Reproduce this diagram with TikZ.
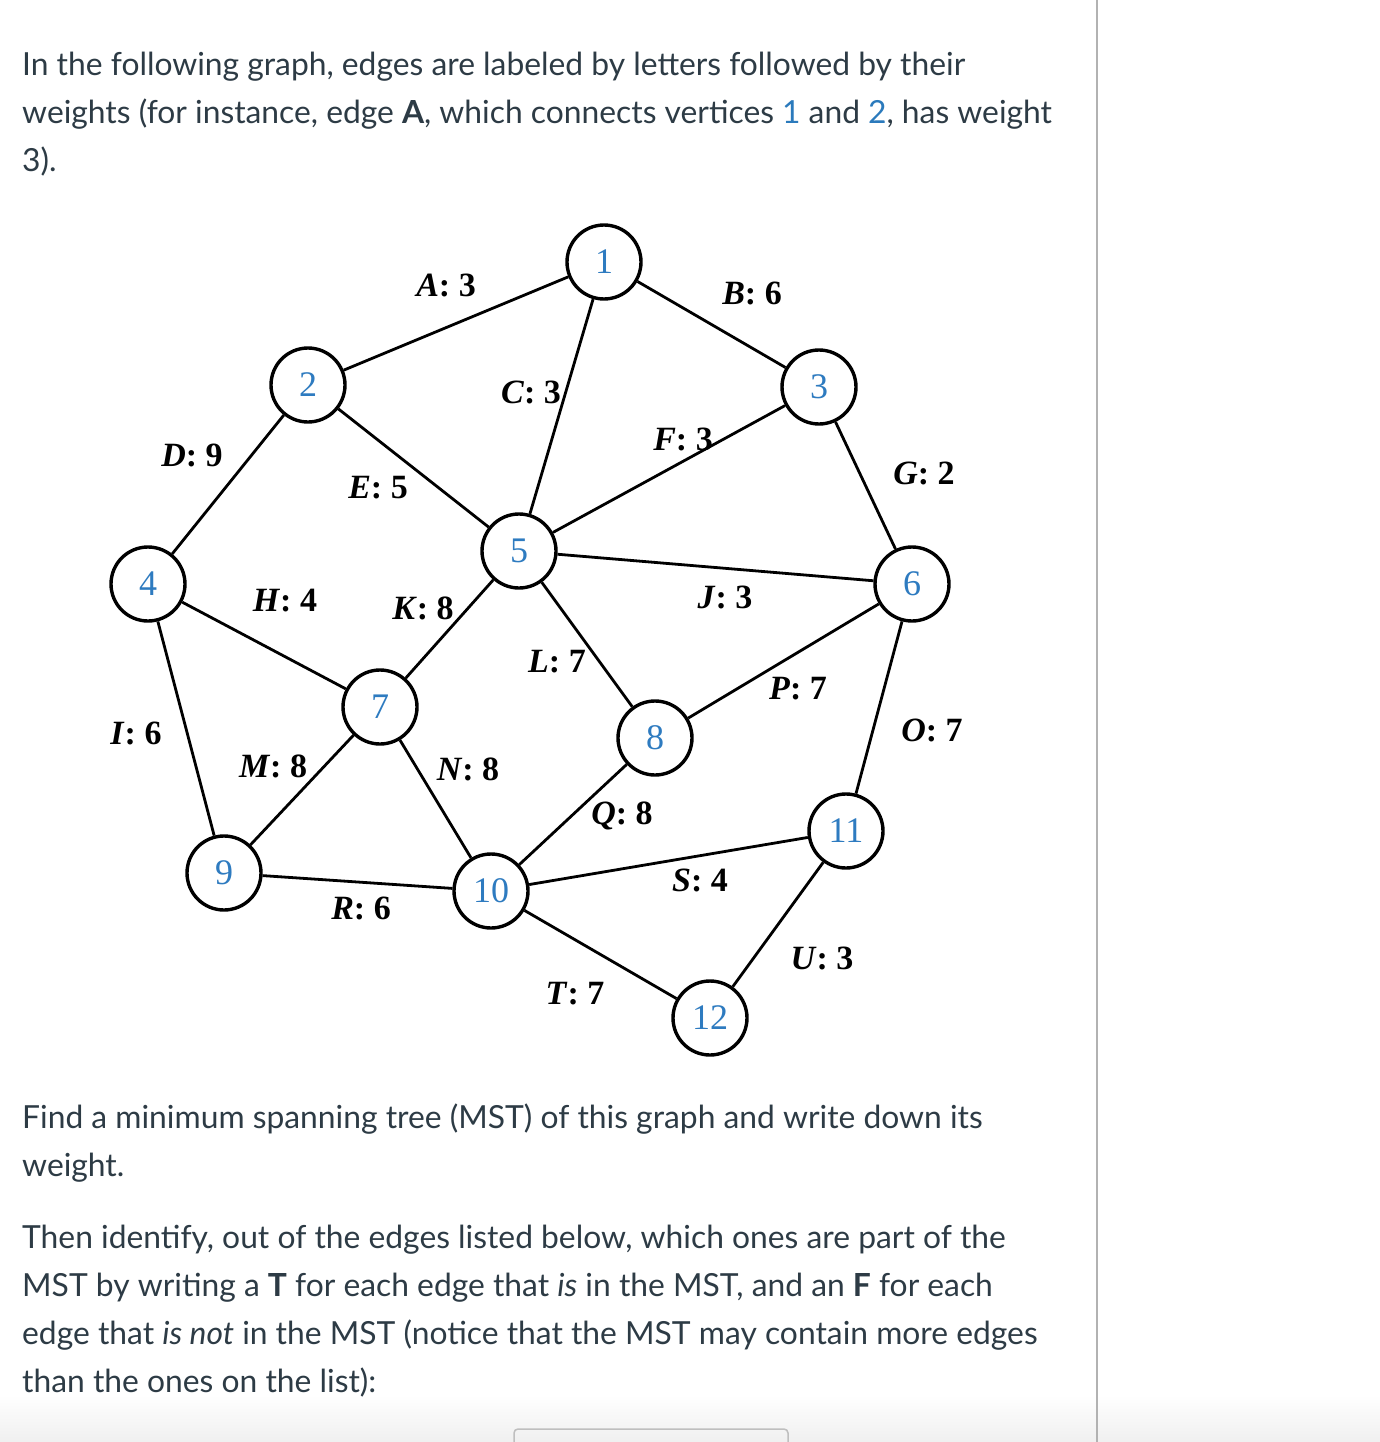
\documentclass[tikz,border=0pt]{standalone}
\usepackage{fontspec}
\setmainfont{Lato}
\newfontfamily\lab{Liberation Serif}
\newfontfamily\num{Liberation Serif}
\definecolor{txt}{HTML}{2D3B45}
\definecolor{lnk}{HTML}{2B7ABC}
\definecolor{nb}{HTML}{2E7BC0}
\begin{document}
\begin{tikzpicture}[x=1pt,y=-1pt,
  vx/.style={circle,draw,line width=3.4pt,minimum size=74pt,inner sep=0pt,fill=white,font=\num\fontsize{36}{36}\selectfont,text=nb},
  ed/.style={line width=2.8pt},
  lb/.style={font=\lab\bfseries\fontsize{34}{34}\selectfont,inner sep=1pt},
  para/.style={anchor=base west,font=\fontsize{31.8}{31.8}\selectfont,text=txt,inner sep=0pt}]
\useasboundingbox (0,0) rectangle (1380,1442);
\shade[top color=white,bottom color=black!6] (0,1395) rectangle (1380,1442);
\draw[black!30,line width=1.5pt] (1097,0) -- (1097,1442);
\draw[black!25,line width=1.5pt,rounded corners=4pt] (514,1450) -- (514,1429) -- (788,1429) -- (788,1450);
% text
\node[para] (t1) at (22,76) {In the following graph, edges are labeled by letters followed by their};
\node[para] (t2) at (22,124) {weights (for instance, edge \textbf{A}, which connects vertices \textcolor{lnk}{1} and \textcolor{lnk}{2}, has weight};
\node[para] (t3) at (22,172) {3).};
\node[para] (t4) at (22,1128) {Find a minimum spanning tree (MST) of this graph and write down its};
\node[para] (t5) at (22,1176) {weight.};
\node[para] (t6) at (22,1248) {Then identify, out of the edges listed below, which ones are part of the};
\node[para] (t7) at (22,1296) {MST by writing a \textbf{T} for each edge that \textit{is} in the MST, and an \textbf{F} for each};
\node[para] (t8) at (22,1344) {edge that \textit{is not} in the MST (notice that the MST may contain more edges};
\node[para] (t9) at (22,1392) {than the ones on the list):};
% vertices
\node[vx] (v1) at (604,262) {1};
\node[vx] (v2) at (308,385) {2};
\node[vx] (v3) at (819,387) {3};
\node[vx] (v4) at (148,584) {4};
\node[vx] (v5) at (519,551) {5};
\node[vx] (v6) at (912,584) {6};
\node[vx] (v7) at (380,707) {7};
\node[vx] (v8) at (655,738) {8};
\node[vx] (v9) at (224,873) {9};
\node[vx] (v10) at (491,891) {10};
\node[vx] (v11) at (846,831) {11};
\node[vx] (v12) at (710,1018) {12};
\foreach \a/\b in {v1/v2,v1/v3,v1/v5,v2/v4,v2/v5,v3/v5,v3/v6,v4/v7,v4/v9,v5/v6,v5/v7,v5/v8,v7/v9,v7/v10,v6/v11,v6/v8,v8/v10,v9/v10,v10/v11,v10/v12,v11/v12}
  \draw[ed] (\a) -- (\b);
% labels
\foreach \n/\x/\y in {A/446/285,B/752/293,C/531/392,D/192/455,E/378/488,F/683/439,G/924/473,H/285/601,I/136/733,J/725/597,K/423/608,L/557/662,M/273/766,N/468/769,O/932/730,P/798/689,Q/622/816,R/361/908,S/700/880,T/575/994,U/822/958}
  \node[lb] (l\n) at (\x,\y) {};
\node[lb] at (lA) {\textit{A}: 3};
\node[lb] at (lB) {\textit{B}: 6};
\node[lb] at (lC) {\textit{C}: 3};
\node[lb] at (lD) {\textit{D}: 9};
\node[lb] at (lE) {\textit{E}: 5};
\node[lb] at (lF) {\textit{F}: 3};
\node[lb] at (lG) {\textit{G}: 2};
\node[lb] at (lH) {\textit{H}: 4};
\node[lb] at (lI) {\textit{I}: 6};
\node[lb] at (lJ) {\textit{J}: 3};
\node[lb] at (lK) {\textit{K}: 8};
\node[lb] at (lL) {\textit{L}: 7};
\node[lb] at (lM) {\textit{M}: 8};
\node[lb] at (lN) {\textit{N}: 8};
\node[lb] at (lO) {\textit{O}: 7};
\node[lb] at (lP) {\textit{P}: 7};
\node[lb] at (lQ) {\textit{Q}: 8};
\node[lb] at (lR) {\textit{R}: 6};
\node[lb] at (lS) {\textit{S}: 4};
\node[lb] at (lT) {\textit{T}: 7};
\node[lb] at (lU) {\textit{U}: 3};
\end{tikzpicture}
\end{document}
